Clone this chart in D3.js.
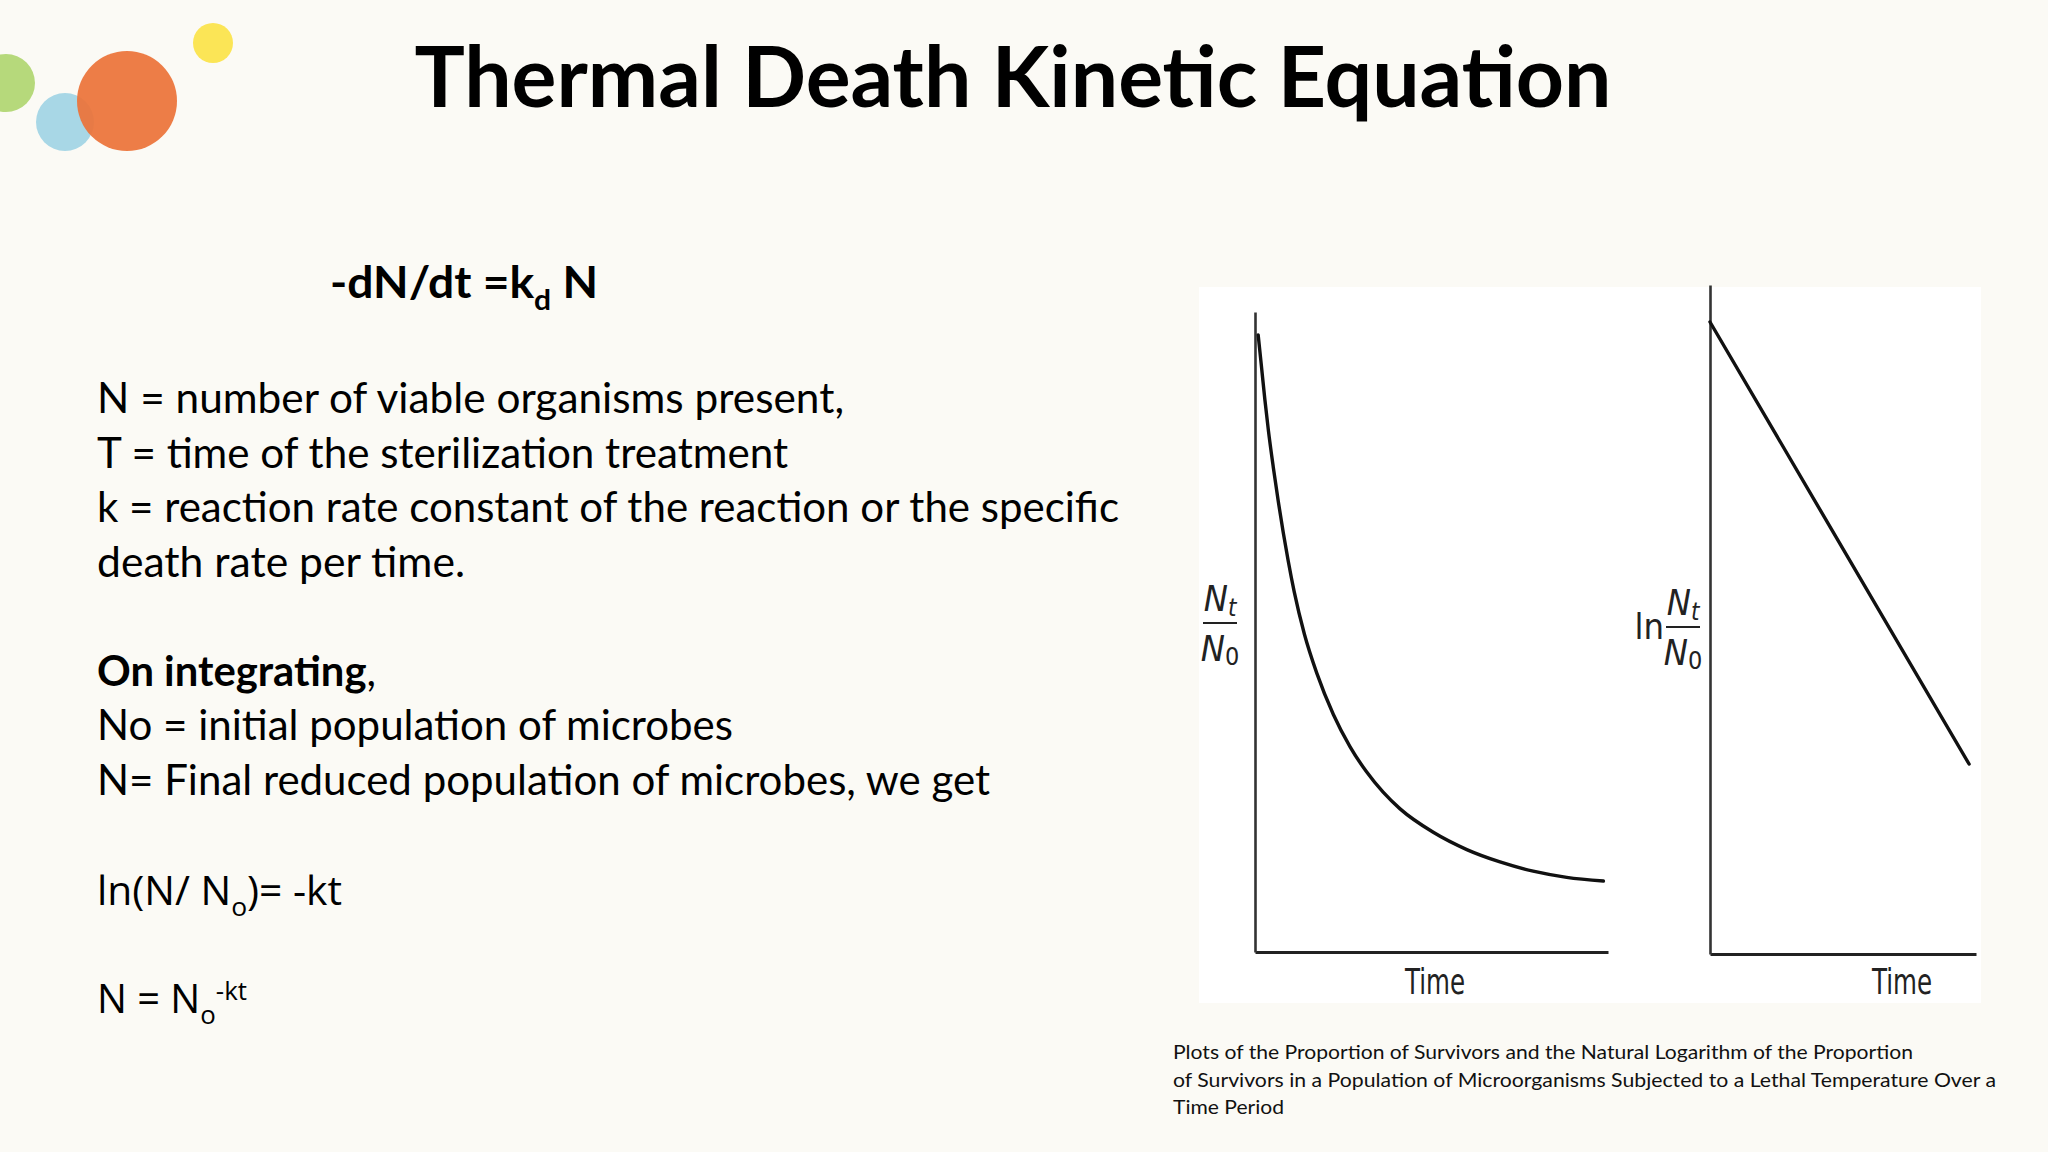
<!DOCTYPE html>
<html>
<head>
<meta charset="UTF-8">
<style>
  body { margin: 0; background-color: #fbfaf5; }
  svg { display: block; }
</style>
</head>
<body>
<svg></svg>
<script src="https://d3js.org/d3.v7.min.js"></script>
<script>
let width = 2048, height = 1152;

// Left panel: proportion of survivors N/N0 (time in arbitrary units)
let decayTime  = [0.09, 0.19, 0.28, 0.38, 0.52, 0.66, 0.80, 0.94, 1.11, 1.40, 1.75, 2.22, 2.69, 3.16, 3.63, 4.11, 5.05, 6.00, 6.94, 7.88, 8.83, 9.87];
let decayRatio = [1.00, 0.945, 0.895, 0.845, 0.785, 0.730, 0.680, 0.634, 0.584, 0.515, 0.452, 0.385, 0.333, 0.292, 0.259, 0.232, 0.194, 0.166, 0.146, 0.131, 0.121, 0.115];

// Right panel: ln(N/N0) is a straight line
let lnTime  = [0, 9.74];
let lnRatio = [0, -4];

let axisLabel = "Time";
let titleText = "Thermal Death Kinetic Equation";

let captionLines = [
  "Plots of the Proportion of Survivors and the Natural Logarithm of the Proportion",
  "of Survivors in a Population of Microorganisms Subjected to a Lethal Temperature Over a",
  "Time Period"
];

// slide text, each line split into styled pieces
let eqLine = [{t: "-dN/dt =k"}, {t: "d", sub: true}, {t: " N"}];
let defLines = [
  [{t: "N = number of viable organisms present,"}],
  [{t: "T = time of the sterilization treatment"}],
  [{t: "k = reaction rate constant of the reaction or the specific"}],
  [{t: "death rate per time."}],
  null,
  [{t: "On integrating", bold: true}, {t: ","}],
  [{t: "No = initial population of microbes"}],
  [{t: "N= Final reduced population of microbes, we get"}]
];
let lnLine  = [{t: "ln(N/ N"}, {t: "o", sub: true}, {t: ")= -kt"}];
let expLine = [{t: "N = N"}, {t: "o", sub: true}, {t: "-kt", sup: true}];

// widths measured on the slide, used to stand in for Calibri
let defWidths = [747, 691, 1022, 368, 0, 279, 636, 893];
let captionWidths = [740, 823, 111];

let svg = d3.select("svg")
  .attr("width", width)
  .attr("height", height)
  .attr("viewBox", "0 0 " + width + " " + height);

svg.append("rect").attr("width", width).attr("height", height).attr("fill", "#fbfaf5");

// decorative bubbles top-left
let bubbles = [
  {cx: 6,   cy: 83,  r: 29, fill: "#b6d97b", op: 1},
  {cx: 65,  cy: 122, r: 29, fill: "#a8d7e6", op: 1},
  {cx: 127, cy: 101, r: 50, fill: "#ec7339", op: 0.93},
  {cx: 213, cy: 43,  r: 20, fill: "#fbe556", op: 1}
];
svg.append("g").selectAll("circle")
  .data(bubbles)
  .enter()
  .append("circle")
  .attr("cx", d => d.cx)
  .attr("cy", d => d.cy)
  .attr("r", d => d.r)
  .attr("fill", d => d.fill)
  .attr("fill-opacity", d => d.op);

let bodyFont = "Lato, 'Open Sans', sans-serif";

function richText(x, y, segs, font, size, len) {
  let t = svg.append("text")
    .attr("x", x)
    .attr("y", y)
    .attr("fill", "#000")
    .style("font-family", font)
    .style("font-size", size + "px");
  let shift = 0;
  segs.forEach(s => {
    let target = s.sub ? size * 0.27 : s.sup ? -size * 0.33 : 0;
    t.append("tspan")
      .attr("dy", target - shift)
      .style("font-size", (s.sub || s.sup) ? (size * 0.65) + "px" : null)
      .style("font-weight", s.bold ? "bold" : null)
      .text(s.t);
    shift = target;
  });
  if (len) t.attr("textLength", len).attr("lengthAdjust", "spacingAndGlyphs");
  return t;
}

// title
svg.append("text")
  .attr("x", 1013)
  .attr("y", 107)
  .attr("text-anchor", "middle")
  .attr("textLength", 1197)
  .attr("lengthAdjust", "spacingAndGlyphs")
  .style("font-family", bodyFont)
  .style("font-weight", "bold")
  .style("font-size", "84px")
  .text(titleText);

richText(330, 298, eqLine, bodyFont, 44, 268).style("font-weight", "bold");

let lineY = d3.scaleLinear().domain([0, 1]).range([413, 467.5]);
defLines.forEach((segs, i) => {
  if (!segs) return;
  richText(97, lineY(i), segs, bodyFont, 42, defWidths[i]);
});

richText(97, 905, lnLine, "'Open Sans', sans-serif", 40, 245);
richText(97, 1013, expLine, "'Open Sans', sans-serif", 40, 150);

// figure
svg.append("rect")
  .attr("x", 1199).attr("y", 287)
  .attr("width", 782).attr("height", 716)
  .attr("fill", "#ffffff");

let figFont = "'Liberation Sans Narrow', 'DejaVu Sans Condensed', 'Liberation Sans', sans-serif";

function panel(frame, xs, ys, xVals, yVals, curve) {
  let g = svg.append("g");
  let yAxisScale = d3.scaleLinear()
    .domain([ys.invert(frame.y0), ys.invert(frame.yTop)])
    .range([frame.y0, frame.yTop]);

  g.append("g")
    .attr("transform", `translate(0,${frame.y0})`)
    .call(d3.axisBottom(xs).ticks(0).tickSizeOuter(0))
    .call(a => a.select(".domain").attr("stroke", "#222").attr("stroke-width", 3));

  g.append("g")
    .attr("transform", `translate(${frame.x0},0)`)
    .call(d3.axisLeft(yAxisScale).ticks(0).tickSizeOuter(0))
    .call(a => a.select(".domain").attr("stroke", "#333").attr("stroke-width", 2.6));

  let pts = xVals.map((v, i) => [v, yVals[i]]);
  g.append("path")
    .datum(pts)
    .attr("fill", "none")
    .attr("stroke", "#111")
    .attr("stroke-width", 3.4)
    .attr("stroke-linecap", "round")
    .attr("d", d3.line().x(d => xs(d[0])).y(d => ys(d[1])).curve(curve));

  g.append("text")
    .attr("x", frame.timeX)
    .attr("y", 994)
    .attr("text-anchor", "middle")
    .attr("textLength", 60)
    .attr("lengthAdjust", "spacingAndGlyphs")
    .attr("fill", "#222")
    .style("font-family", figFont)
    .style("font-size", "35px")
    .text(axisLabel);
  return g;
}

function fraction(cx, barY, withLn) {
  let g = svg.append("g")
    .attr("fill", "#222")
    .style("font-family", figFont)
    .style("font-size", "36px");
  let top = g.append("text").attr("x", cx).attr("y", barY - 12).attr("text-anchor", "middle");
  top.append("tspan").style("font-style", "italic").text("N");
  top.append("tspan").attr("dy", 5).style("font-style", "italic").style("font-size", "24px").text("t");
  g.append("line")
    .attr("x1", cx - 17).attr("x2", cx + 17)
    .attr("y1", barY).attr("y2", barY)
    .attr("stroke", "#222").attr("stroke-width", 2);
  let bot = g.append("text").attr("x", cx).attr("y", barY + 38).attr("text-anchor", "middle");
  bot.append("tspan").style("font-style", "italic").text("N");
  bot.append("tspan").attr("dy", 4).style("font-size", "25px").text("0");
  if (withLn) {
    g.append("text")
      .attr("x", cx - 19)
      .attr("y", barY + 12)
      .attr("text-anchor", "end")
      .text("ln");
  }
}

let leftFrame  = {x0: 1255, y0: 952, yTop: 312, timeX: 1435};
let rightFrame = {x0: 1710, y0: 954, yTop: 285, timeX: 1902};

let xL = d3.scaleLinear().domain([0, 10]).range([1255, 1608]);
let yL = d3.scaleLinear().domain([0, 1]).range([952, 335]);
let xR = d3.scaleLinear().domain([0, 10]).range([1710, 1976]);
let yR = d3.scaleLinear().domain([-4, 0]).range([764, 322]);

panel(leftFrame, xL, yL, decayTime, decayRatio, d3.curveMonotoneX);
panel(rightFrame, xR, yR, lnTime, lnRatio, d3.curveLinear);

fraction(1220, 623, false);
fraction(1683, 627, true);

// caption
let capY = d3.scaleLinear().domain([0, 1]).range([1059, 1086.5]);
captionLines.forEach((c, i) => {
  svg.append("text")
    .attr("x", 1173)
    .attr("y", capY(i))
    .attr("textLength", captionWidths[i])
    .attr("lengthAdjust", "spacingAndGlyphs")
    .attr("fill", "#111")
    .style("font-family", bodyFont)
    .style("font-size", "20px")
    .text(c);
});
</script>
</body>
</html>
